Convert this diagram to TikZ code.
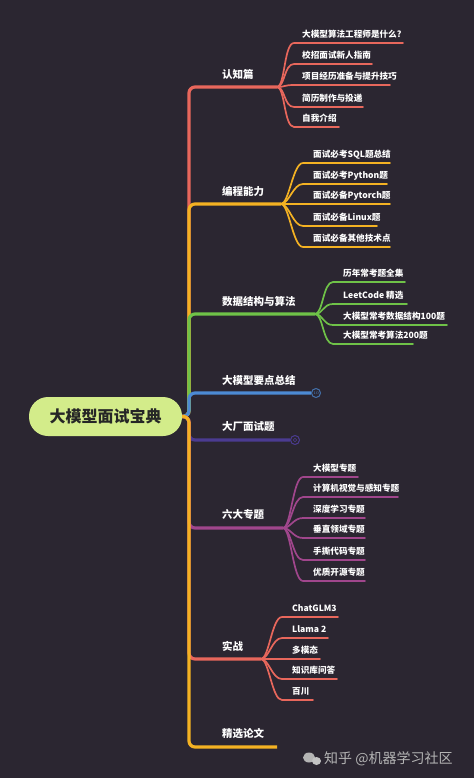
\documentclass[tikz,border=0pt]{standalone}
\usepackage{fontspec}
\newfontfamily\cjk{Noto Sans CJK SC}
\usetikzlibrary{calc}

\definecolor{bgdark}{HTML}{2B2631}
\definecolor{redbr}{HTML}{E8675C}
\definecolor{orangebr}{HTML}{F4B223}
\definecolor{greenbr}{HTML}{6FC248}
\definecolor{bluebr}{HTML}{4C8AD4}
\definecolor{indigobr}{HTML}{4B3B91}
\definecolor{magentabr}{HTML}{A0468C}
\definecolor{rootfill}{HTML}{D3EC8A}
\definecolor{marktext}{HTML}{B4B4B4}

\begin{document}
\begin{tikzpicture}[
	x=1pt, y=-1pt,
	trunkline/.style={line width=3.2pt, rounded corners=6pt},
	subline/.style={line width=1.7pt, line cap=round},
	rootbox/.style={
		fill=rootfill,
		rounded corners=19pt,
		minimum width=153pt,
		minimum height=39pt,
		text=black!85,
		font=\cjk\bfseries\fontsize{16}{18}\selectfont
	},
	mainlabel/.style={text=white, anchor=west, inner sep=0pt, font=\cjk\bfseries\fontsize{10.5}{12}\selectfont},
	sublabel/.style={text=white, anchor=west, inner sep=0pt, font=\cjk\bfseries\fontsize{8.6}{10}\selectfont},
	countdot/.style={circle, fill=bgdark, line width=1pt, minimum size=9pt, inner sep=0pt},
]

% background and page size
\fill[bgdark] (0,0) rectangle (474,778);
\useasboundingbox (0,0) rectangle (474,778);

% root
\node[rootbox] (root) at (105.5,416.5) {大模型面试宝典};
\coordinate (jn) at (189,416.5);

% branch ends
\coordinate (b1) at (277,87);
\coordinate (b2) at (281,204);
\coordinate (b3) at (315,314);
\node[countdot, draw=bluebr!75!bgdark, text=bluebr, font=\fontsize{4}{4}\selectfont] (c1) at (316,393) {10};
\node[countdot, draw=indigobr] (c2) at (295,440) {};
\node[circle, draw=indigobr, line width=0.6pt, minimum size=3.5pt, inner sep=0pt] (c2in) at (c2) {};
\coordinate (b6) at (283,528);
\coordinate (b7) at (261,659);
\coordinate (b8) at (277,747);

% trunk (later branches lie on top)
\draw[trunkline, redbr] (root.east) -- (jn) |- (b1);
\draw[trunkline, orangebr] (root.east) -- (jn) |- (b2);
\draw[trunkline, greenbr] (root.east) -- (jn) |- (b3);
\draw[trunkline, bluebr] (root.east) -- (jn) |- (c1);
\draw[trunkline, indigobr] (root.east) -- (jn) |- (c2);
\draw[trunkline, magentabr] (root.east) -- (jn) |- (b6);
\draw[trunkline, redbr] (root.east) -- (jn) |- (b7);
\draw[trunkline, orangebr] (root.east) -- (jn) |- (b8);

% branch labels
\foreach \by/\txt [count=\i] in {87/认知篇, 204/编程能力, 314/数据结构与算法, 393/大模型要点总结,
	440/大厂面试题, 528/六大专题, 659/实战, 747/精选论文} {
	\node[mainlabel] (m\i) at (222,\by-13) {\txt};
}

% 认知篇
\foreach \ly/\ex/\txt [count=\i] in {43/403/大模型算法工程师是什么?, 64/372/校招面试新人指南,
	85/390/项目经历准备与提升技巧, 107/363/简历制作与投递, 127/339/自我介绍} {
	\coordinate (s1\i) at (294,\ly);
	\coordinate (e1\i) at (\ex,\ly);
	\draw[subline, redbr] (b1) .. controls +(8,0) and +(-10,0) .. (s1\i) -- (e1\i);
	\node[sublabel] (t1\i) at (302,\ly-8.5) {\txt};
}

% 编程能力
\foreach \ly/\ex/\txt [count=\i] in {163/390/面试必考SQL题总结, 184/387/面试必考Python题,
	204/390/面试必备Pytorch题, 226/377/面试必备Linux题, 247/390/面试必备其他技术点} {
	\coordinate (s2\i) at (303,\ly);
	\coordinate (e2\i) at (\ex,\ly);
	\draw[subline, orangebr] (b2) .. controls +(8,0) and +(-10,0) .. (s2\i) -- (e2\i);
	\node[sublabel] (t2\i) at (313,\ly-8.5) {\txt};
}

% 数据结构与算法
\foreach \ly/\ex/\txt [count=\i] in {282/405/历年常考题全集, 304/407/LeetCode 精选,
	325/447/大模型常考数据结构100题, 344/413/大模型常考算法200题} {
	\coordinate (s3\i) at (333,\ly);
	\coordinate (e3\i) at (\ex,\ly);
	\draw[subline, greenbr] (b3) .. controls +(8,0) and +(-10,0) .. (s3\i) -- (e3\i);
	\node[sublabel] (t3\i) at (343,\ly-8.5) {\txt};
}

% 六大专题
\foreach \ly/\ex/\txt [count=\i] in {477/358/大模型专题, 497/398/计算机视觉与感知专题,
	518/365/深度学习专题, 538/365/垂直领域专题, 560/365/手撕代码专题, 581/365/优质开源专题} {
	\coordinate (s6\i) at (303,\ly);
	\coordinate (e6\i) at (\ex,\ly);
	\draw[subline, magentabr] (b6) .. controls +(8,0) and +(-10,0) .. (s6\i) -- (e6\i);
	\node[sublabel] (t6\i) at (313,\ly-8.5) {\txt};
}

% 实战
\foreach \ly/\ex/\txt [count=\i] in {617/338/ChatGLM3, 638/328/Llama 2, 659/320/多模态,
	679/337/知识库问答, 700/313/百川} {
	\coordinate (s7\i) at (282,\ly);
	\coordinate (e7\i) at (\ex,\ly);
	\draw[subline, redbr] (b7) .. controls +(8,0) and +(-10,0) .. (s7\i) -- (e7\i);
	\node[sublabel] (t7\i) at (292,\ly-8.5) {\txt};
}

% watermark
\fill[marktext] (309,757.5) ellipse (6 and 5);
\fill[marktext!80] (316.5,761) ellipse (4.5 and 4);
\node[anchor=west, inner sep=0pt, text=marktext, font=\cjk\fontsize{14}{16}\selectfont] (wm) at (324,759) {知乎 @机器学习社区};

\end{tikzpicture}
\end{document}
